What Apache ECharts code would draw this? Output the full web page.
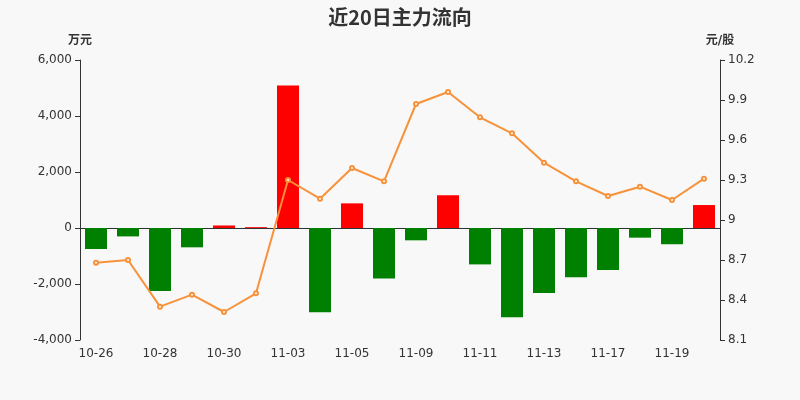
<!DOCTYPE html>
<html><head><meta charset="utf-8">
<script src="https://cdn.jsdelivr.net/npm/echarts@6/dist/echarts.min.js"></script>
<style>html,body{margin:0;padding:0;background:#f8f8f8}#c{width:800px;height:400px}</style>
</head><body><div id="c"></div>
<script>
const categories = ['10-26','10-27','10-28','10-29','10-30','11-02','11-03','11-04','11-05','11-06','11-09','11-10','11-11','11-12','11-13','11-16','11-17','11-18','11-19','11-20'];
const flowValues = [-750,-300,-2250,-690,90,30,5090,-3010,880,-1800,-440,1170,-1300,-3190,-2320,-1760,-1500,-345,-580,820];
const priceValues = [8.68,8.70,8.35,8.44,8.31,8.45,9.30,9.16,9.39,9.29,9.87,9.96,9.77,9.65,9.43,9.29,9.18,9.25,9.15,9.31];
const leftTicks = {min:-4000,max:6000,interval:2000};
const rightTicks = {min:8.1,max:10.2,interval:0.3};

const chart = echarts.init(document.getElementById('c'));
const font = '"DejaVu Sans", "Noto Sans CJK SC", sans-serif';
chart.setOption({
  backgroundColor:'#f8f8f8',
  animation:false,
  textStyle:{fontFamily:font},
  title:{text:'近20日主力流向',left:'center',top:2,textStyle:{fontSize:20,fontWeight:'bold',color:'#333',fontFamily:'"Noto Sans CJK SC", sans-serif'}},
  grid:{left:80,right:80,top:60,bottom:60},
  xAxis:[
    {type:'category',data:categories,position:'bottom',axisLine:{onZero:false,show:false},axisTick:{show:false},
     axisLabel:{interval:1,color:'#333',fontSize:12,margin:8,fontFamily:font}},
    {type:'category',data:categories,position:'bottom',axisLine:{onZero:true,onZeroAxisIndex:0,lineStyle:{color:'#333'}},
     axisTick:{interval:1,lineStyle:{color:'#333'}},axisLabel:{show:false}}
  ],
  yAxis:[
    {type:'value',min:leftTicks.min,max:leftTicks.max,interval:leftTicks.interval,name:'万元',nameGap:13,
     nameTextStyle:{color:'#333',fontSize:12,fontWeight:'bold',fontFamily:font},
     axisLine:{show:true,lineStyle:{color:'#333'}},axisTick:{show:true},splitLine:{show:false},
     axisLabel:{color:'#333',fontSize:12,fontFamily:font}},
    {type:'value',min:rightTicks.min,max:rightTicks.max,interval:rightTicks.interval,name:'元/股',nameGap:13,
     nameTextStyle:{color:'#333',fontSize:12,fontWeight:'bold',fontFamily:font},
     axisLine:{show:true,lineStyle:{color:'#333'}},axisTick:{show:true},splitLine:{show:false},
     axisLabel:{color:'#333',fontSize:12,fontFamily:font,formatter:v=>String(Math.round(v*10)/10)}}
  ],
  series:[
    {type:'bar',xAxisIndex:0,yAxisIndex:0,barWidth:22,
     data:flowValues.map(v=>({value:v,itemStyle:{color:v>=0?'#ff0000':'#008000'}}))},
    {type:'line',xAxisIndex:0,yAxisIndex:1,data:priceValues,symbol:'emptyCircle',symbolSize:4,
     lineStyle:{color:'#f7923a',width:2},itemStyle:{color:'#f7923a'}}
  ]
});
</script></body></html>
